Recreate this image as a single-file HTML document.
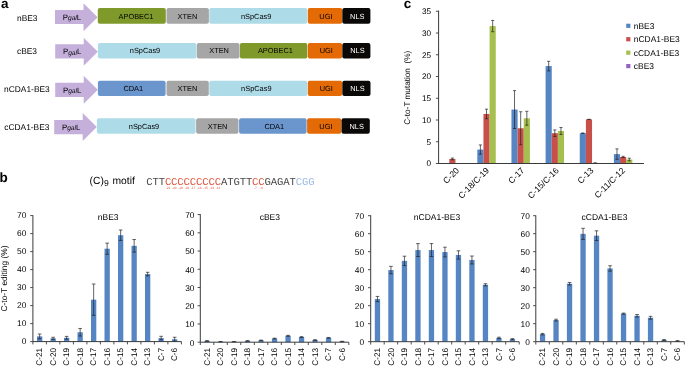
<!DOCTYPE html>
<html lang="en">
<head>
<meta charset="utf-8">
<title>Figure: base editor architectures and C-to-T editing</title>
<style>
html,body{margin:0;padding:0;background:#ffffff;}
body{width:685px;height:366px;overflow:hidden;}
svg{display:block;font-family:"Liberation Sans", Arial, sans-serif;text-rendering:geometricPrecision;}
</style>
</head>
<body>
<svg width="685" height="366" viewBox="0 0 685 366">
<rect x="0" y="0" width="685" height="366" fill="#ffffff"/>
<text x="17.00" y="20.90" font-size="8.4" text-anchor="start" fill="#000" >nBE3</text>
<path d="M55.00 9.90H83.50V3.20L97.60 17.25L83.50 31.30V24.00H55.00Z" fill="#c5b0dc"/>
<text x="62.80" y="19.80" font-size="7.8" fill="#000">P<tspan font-size="6.6" font-style="italic" dy="0.4">gal</tspan><tspan dy="-0.4">L</tspan></text>
<rect x="97.80" y="8.10" width="68.00" height="15.60" rx="2" ry="2" fill="#80992b"/>
<text x="136.00" y="19.05" font-size="7.4" text-anchor="middle" fill="#000" >APOBEC1</text>
<rect x="166.50" y="8.10" width="42.40" height="15.60" rx="2" ry="2" fill="#a6a6a6"/>
<text x="187.40" y="19.05" font-size="7.4" text-anchor="middle" fill="#000" >XTEN</text>
<rect x="209.30" y="8.10" width="97.90" height="15.60" rx="2" ry="2" fill="#addbe8"/>
<text x="256.10" y="19.05" font-size="7.4" text-anchor="middle" fill="#000" >nSpCas9</text>
<rect x="307.80" y="8.10" width="34.40" height="15.60" rx="2" ry="2" fill="#e36a05"/>
<text x="325.90" y="19.05" font-size="7.4" text-anchor="middle" fill="#000" >UGI</text>
<rect x="342.30" y="8.10" width="28.10" height="15.60" rx="2" ry="2" fill="#0b0907"/>
<text x="357.30" y="19.05" font-size="7.4" text-anchor="middle" fill="#ffffff" >NLS</text>
<text x="17.00" y="53.70" font-size="8.4" text-anchor="start" fill="#000" >cBE3</text>
<path d="M55.20 44.30H83.70V37.80L97.80 51.80L83.70 65.80V58.60H55.20Z" fill="#c5b0dc"/>
<text x="63.00" y="54.30" font-size="7.8" fill="#000">P<tspan font-size="6.6" font-style="italic" dy="0.4">gal</tspan><tspan dy="-0.4">L</tspan></text>
<rect x="97.90" y="43.00" width="98.50" height="15.60" rx="2" ry="2" fill="#addbe8"/>
<text x="145.00" y="53.25" font-size="7.4" text-anchor="middle" fill="#000" >nSpCas9</text>
<rect x="196.80" y="43.00" width="42.70" height="15.60" rx="2" ry="2" fill="#a6a6a6"/>
<text x="219.10" y="53.25" font-size="7.4" text-anchor="middle" fill="#000" >XTEN</text>
<rect x="239.90" y="43.00" width="67.40" height="15.60" rx="2" ry="2" fill="#80992b"/>
<text x="275.40" y="53.25" font-size="7.4" text-anchor="middle" fill="#000" >APOBEC1</text>
<rect x="307.80" y="43.00" width="34.30" height="15.60" rx="2" ry="2" fill="#e36a05"/>
<text x="326.20" y="53.25" font-size="7.4" text-anchor="middle" fill="#000" >UGI</text>
<rect x="342.30" y="43.00" width="28.10" height="15.60" rx="2" ry="2" fill="#0b0907"/>
<text x="357.40" y="53.25" font-size="7.4" text-anchor="middle" fill="#ffffff" >NLS</text>
<text x="4.10" y="92.10" font-size="8.4" text-anchor="start" fill="#000" >nCDA1-BE3</text>
<path d="M55.20 82.70H83.70V75.70L97.80 89.70L83.70 103.70V97.00H55.20Z" fill="#c5b0dc"/>
<text x="63.00" y="92.70" font-size="7.8" fill="#000">P<tspan font-size="6.6" font-style="italic" dy="0.4">gal</tspan><tspan dy="-0.4">L</tspan></text>
<rect x="97.90" y="80.70" width="67.70" height="15.40" rx="2" ry="2" fill="#6b95cd"/>
<text x="133.30" y="91.35" font-size="7.4" text-anchor="middle" fill="#000" >CDA1</text>
<rect x="166.50" y="80.70" width="42.30" height="15.40" rx="2" ry="2" fill="#a6a6a6"/>
<text x="187.40" y="91.35" font-size="7.4" text-anchor="middle" fill="#000" >XTEN</text>
<rect x="209.30" y="80.70" width="98.00" height="15.40" rx="2" ry="2" fill="#addbe8"/>
<text x="256.30" y="91.35" font-size="7.4" text-anchor="middle" fill="#000" >nSpCas9</text>
<rect x="307.80" y="80.70" width="34.30" height="15.40" rx="2" ry="2" fill="#e36a05"/>
<text x="326.20" y="91.35" font-size="7.4" text-anchor="middle" fill="#000" >UGI</text>
<rect x="342.30" y="80.70" width="28.20" height="15.40" rx="2" ry="2" fill="#0b0907"/>
<text x="357.40" y="91.35" font-size="7.4" text-anchor="middle" fill="#ffffff" >NLS</text>
<text x="4.30" y="129.80" font-size="8.4" text-anchor="start" fill="#000" >cCDA1-BE3</text>
<path d="M54.20 120.00H82.70V112.90L96.80 126.95L82.70 141.00V134.20H54.20Z" fill="#c5b0dc"/>
<text x="62.00" y="129.95" font-size="7.8" fill="#000">P<tspan font-size="6.6" font-style="italic" dy="0.4">gal</tspan><tspan dy="-0.4">L</tspan></text>
<rect x="96.90" y="118.30" width="98.60" height="15.50" rx="2" ry="2" fill="#addbe8"/>
<text x="144.00" y="129.10" font-size="7.4" text-anchor="middle" fill="#000" >nSpCas9</text>
<rect x="196.10" y="118.30" width="42.40" height="15.50" rx="2" ry="2" fill="#a6a6a6"/>
<text x="217.60" y="129.10" font-size="7.4" text-anchor="middle" fill="#000" >XTEN</text>
<rect x="239.10" y="118.30" width="67.50" height="15.50" rx="2" ry="2" fill="#6b95cd"/>
<text x="274.30" y="129.10" font-size="7.4" text-anchor="middle" fill="#000" >CDA1</text>
<rect x="307.10" y="118.30" width="34.20" height="15.50" rx="2" ry="2" fill="#e36a05"/>
<text x="325.90" y="129.10" font-size="7.4" text-anchor="middle" fill="#000" >UGI</text>
<rect x="341.50" y="118.30" width="28.30" height="15.50" rx="2" ry="2" fill="#0b0907"/>
<text x="356.70" y="129.10" font-size="7.4" text-anchor="middle" fill="#ffffff" >NLS</text>
<text x="1.0" y="7.6" font-size="13.5" font-weight="bold" fill="#000">a</text>
<text x="-0.4" y="181.6" font-size="13.5" font-weight="bold" fill="#000">b</text>
<text x="403.8" y="7.8" font-size="13.5" font-weight="bold" fill="#000">c</text>
<path d="M438.6 10.6V163.5H643.7" fill="none" stroke="#3a3a3a" stroke-width="1"/>
<path d="M435.90 163.50H438.6" stroke="#3a3a3a" stroke-width="0.9"/>
<text x="431.00" y="166.45" font-size="8.2" text-anchor="end" fill="#000" >0</text>
<path d="M435.90 141.75H438.6" stroke="#3a3a3a" stroke-width="0.9"/>
<text x="431.00" y="144.70" font-size="8.2" text-anchor="end" fill="#000" >5</text>
<path d="M435.90 120.01H438.6" stroke="#3a3a3a" stroke-width="0.9"/>
<text x="431.00" y="122.96" font-size="8.2" text-anchor="end" fill="#000" >10</text>
<path d="M435.90 98.27H438.6" stroke="#3a3a3a" stroke-width="0.9"/>
<text x="431.00" y="101.22" font-size="8.2" text-anchor="end" fill="#000" >15</text>
<path d="M435.90 76.52H438.6" stroke="#3a3a3a" stroke-width="0.9"/>
<text x="431.00" y="79.47" font-size="8.2" text-anchor="end" fill="#000" >20</text>
<path d="M435.90 54.77H438.6" stroke="#3a3a3a" stroke-width="0.9"/>
<text x="431.00" y="57.72" font-size="8.2" text-anchor="end" fill="#000" >25</text>
<path d="M435.90 33.03H438.6" stroke="#3a3a3a" stroke-width="0.9"/>
<text x="431.00" y="35.98" font-size="8.2" text-anchor="end" fill="#000" >30</text>
<path d="M435.90 11.28H438.6" stroke="#3a3a3a" stroke-width="0.9"/>
<text x="431.00" y="14.23" font-size="8.2" text-anchor="end" fill="#000" >35</text>
<text transform="translate(410.2 124.8) rotate(-90)" font-size="8.2" fill="#000">C-to-T mutation&#160;&#160;(%)</text>
<rect x="449.30" y="158.93" width="6.15" height="4.57" fill="#c8504b"/>
<path d="M452.38 158.06V159.80M450.82 158.06H453.93M450.82 159.80H453.93" stroke="#222" stroke-width="0.7" fill="none"/>
<text transform="translate(459.68 171.10) rotate(-45)" font-size="8.6" text-anchor="end" fill="#000">C-20</text>
<rect x="477.30" y="149.58" width="6.15" height="13.92" fill="#5585c3"/>
<rect x="483.45" y="113.92" width="6.15" height="49.58" fill="#c8504b"/>
<rect x="489.60" y="26.07" width="6.15" height="137.43" fill="#a5c04f"/>
<path d="M480.38 144.93V154.24M478.82 144.93H481.93M478.82 154.24H481.93" stroke="#222" stroke-width="0.7" fill="none"/>
<path d="M486.52 109.14V118.71M484.97 109.14H488.07M484.97 118.71H488.07" stroke="#222" stroke-width="0.7" fill="none"/>
<path d="M492.68 20.42V31.73M491.12 20.42H494.23M491.12 31.73H494.23" stroke="#222" stroke-width="0.7" fill="none"/>
<text transform="translate(489.73 171.10) rotate(-45)" font-size="8.6" text-anchor="end" fill="#000">C-18/C-19</text>
<rect x="511.45" y="109.57" width="6.15" height="53.93" fill="#5585c3"/>
<rect x="517.60" y="128.27" width="6.15" height="35.23" fill="#c8504b"/>
<rect x="523.75" y="118.27" width="6.15" height="45.23" fill="#a5c04f"/>
<path d="M514.53 90.65V128.49M512.98 90.65H516.08M512.98 128.49H516.08" stroke="#222" stroke-width="0.7" fill="none"/>
<path d="M520.68 111.75V144.80M519.13 111.75H522.23M519.13 144.80H522.23" stroke="#222" stroke-width="0.7" fill="none"/>
<path d="M526.83 111.31V125.23M525.28 111.31H528.38M525.28 125.23H528.38" stroke="#222" stroke-width="0.7" fill="none"/>
<text transform="translate(524.98 171.10) rotate(-45)" font-size="8.6" text-anchor="end" fill="#000">C-17</text>
<rect x="545.60" y="66.08" width="6.15" height="97.42" fill="#5585c3"/>
<rect x="551.75" y="133.19" width="6.15" height="30.31" fill="#c8504b"/>
<rect x="557.90" y="131.01" width="6.15" height="32.49" fill="#a5c04f"/>
<path d="M548.67 61.30V70.87M547.12 61.30H550.22M547.12 70.87H550.22" stroke="#222" stroke-width="0.7" fill="none"/>
<path d="M554.82 129.93V136.45M553.27 129.93H556.37M553.27 136.45H556.37" stroke="#222" stroke-width="0.7" fill="none"/>
<path d="M560.97 127.53V134.49M559.42 127.53H562.52M559.42 134.49H562.52" stroke="#222" stroke-width="0.7" fill="none"/>
<text transform="translate(559.33 171.10) rotate(-45)" font-size="8.6" text-anchor="end" fill="#000">C-15/C-16</text>
<rect x="579.75" y="133.19" width="6.15" height="30.31" fill="#5585c3"/>
<rect x="585.90" y="119.40" width="6.15" height="44.10" fill="#c8504b"/>
<rect x="592.05" y="163.07" width="6.15" height="0.43" fill="#a5c04f"/>
<path d="M582.83 133.06V133.32M581.28 133.06H584.38M581.28 133.32H584.38" stroke="#222" stroke-width="0.7" fill="none"/>
<path d="M588.98 119.27V119.53M587.43 119.27H590.52M587.43 119.53H590.52" stroke="#222" stroke-width="0.7" fill="none"/>
<path d="M595.12 162.80V163.33M593.58 162.80H596.67M593.58 163.33H596.67" stroke="#222" stroke-width="0.7" fill="none"/>
<text transform="translate(594.08 171.10) rotate(-45)" font-size="8.6" text-anchor="end" fill="#000">C-13</text>
<rect x="613.90" y="154.11" width="6.15" height="9.39" fill="#5585c3"/>
<rect x="620.05" y="156.98" width="6.15" height="6.52" fill="#c8504b"/>
<rect x="626.20" y="159.50" width="6.15" height="4.00" fill="#a5c04f"/>
<path d="M616.98 148.89V159.32M615.43 148.89H618.52M615.43 159.32H618.52" stroke="#222" stroke-width="0.7" fill="none"/>
<path d="M623.12 156.32V157.63M621.58 156.32H624.67M621.58 157.63H624.67" stroke="#222" stroke-width="0.7" fill="none"/>
<path d="M629.27 158.19V160.80M627.73 158.19H630.82M627.73 160.80H630.82" stroke="#222" stroke-width="0.7" fill="none"/>
<text transform="translate(625.53 171.10) rotate(-45)" font-size="8.6" text-anchor="end" fill="#000">C-11/C-12</text>
<path d="M438.1 163.5H643.7" fill="none" stroke="#3a3a3a" stroke-width="1"/>
<rect x="626.2" y="23.70" width="4.2" height="4.2" fill="#5585c3"/>
<text x="633.80" y="28.80" font-size="8.45" text-anchor="start" fill="#000" >nBE3</text>
<rect x="626.2" y="37.13" width="4.2" height="4.2" fill="#c8504b"/>
<text x="633.80" y="42.23" font-size="8.45" text-anchor="start" fill="#000" >nCDA1-BE3</text>
<rect x="626.2" y="50.56" width="4.2" height="4.2" fill="#a5c04f"/>
<text x="633.80" y="55.66" font-size="8.45" text-anchor="start" fill="#000" >cCDA1-BE3</text>
<rect x="626.2" y="63.99" width="4.2" height="4.2" fill="#9563c4"/>
<text x="633.80" y="69.09" font-size="8.45" text-anchor="start" fill="#000" >cBE3</text>
<text x="89.6" y="184.4" font-size="10.3" fill="#000">(C)<tspan font-size="8.6" dy="1.6">9</tspan><tspan x="112.5" dy="-1.6">motif</tspan></text>
<text x="146.2" y="184.8" font-size="10.6" font-family='"Liberation Mono", "Courier New", monospace' textLength="168.34" lengthAdjust="spacing"><tspan fill="#4a4a4a">CTT</tspan><tspan fill="#e2553f">CCCCCCCCC</tspan><tspan fill="#4a4a4a">ATGTT</tspan><tspan fill="#e2553f">CC</tspan><tspan fill="#4a4a4a">GAGAT</tspan><tspan fill="#9dbae6">CGG</tspan></text>
<text x="168.02" y="189.20" font-size="3.2" text-anchor="middle" fill="#e2553f" >-21</text>
<text x="174.26" y="189.20" font-size="3.2" text-anchor="middle" fill="#e2553f" >-20</text>
<text x="180.49" y="189.20" font-size="3.2" text-anchor="middle" fill="#e2553f" >-19</text>
<text x="186.73" y="189.20" font-size="3.2" text-anchor="middle" fill="#e2553f" >-18</text>
<text x="192.96" y="189.20" font-size="3.2" text-anchor="middle" fill="#e2553f" >-17</text>
<text x="199.20" y="189.20" font-size="3.2" text-anchor="middle" fill="#e2553f" >-16</text>
<text x="205.43" y="189.20" font-size="3.2" text-anchor="middle" fill="#e2553f" >-15</text>
<text x="211.67" y="189.20" font-size="3.2" text-anchor="middle" fill="#e2553f" >-14</text>
<text x="217.90" y="189.20" font-size="3.2" text-anchor="middle" fill="#e2553f" >-13</text>
<text x="255.31" y="189.20" font-size="3.2" text-anchor="middle" fill="#e2553f" >-7</text>
<text x="261.55" y="189.20" font-size="3.2" text-anchor="middle" fill="#e2553f" >-6</text>
<path d="M30.20 341.60H32.90" stroke="#3a3a3a" stroke-width="0.9"/>
<text x="26.40" y="344.40" font-size="8.4" text-anchor="end" fill="#000" >0</text>
<path d="M30.20 323.60H32.90" stroke="#3a3a3a" stroke-width="0.9"/>
<text x="26.40" y="326.40" font-size="8.4" text-anchor="end" fill="#000" >10</text>
<path d="M30.20 305.60H32.90" stroke="#3a3a3a" stroke-width="0.9"/>
<text x="26.40" y="308.40" font-size="8.4" text-anchor="end" fill="#000" >20</text>
<path d="M30.20 287.60H32.90" stroke="#3a3a3a" stroke-width="0.9"/>
<text x="26.40" y="290.40" font-size="8.4" text-anchor="end" fill="#000" >30</text>
<path d="M30.20 269.60H32.90" stroke="#3a3a3a" stroke-width="0.9"/>
<text x="26.40" y="272.40" font-size="8.4" text-anchor="end" fill="#000" >40</text>
<path d="M30.20 251.60H32.90" stroke="#3a3a3a" stroke-width="0.9"/>
<text x="26.40" y="254.40" font-size="8.4" text-anchor="end" fill="#000" >50</text>
<path d="M30.20 233.60H32.90" stroke="#3a3a3a" stroke-width="0.9"/>
<text x="26.40" y="236.40" font-size="8.4" text-anchor="end" fill="#000" >60</text>
<path d="M30.20 215.60H32.90" stroke="#3a3a3a" stroke-width="0.9"/>
<text x="26.40" y="218.40" font-size="8.4" text-anchor="end" fill="#000" >70</text>
<rect x="37.00" y="336.38" width="5.3" height="5.22" fill="#5585c3"/>
<path d="M39.65 334.04V338.72M37.85 334.04H41.45M37.85 338.72H41.45" stroke="#222" stroke-width="0.7" fill="none"/>
<text transform="translate(42.45 347.9) rotate(-90)" font-size="8.2" text-anchor="end" fill="#000">C-21</text>
<rect x="50.50" y="338.36" width="5.3" height="3.24" fill="#5585c3"/>
<path d="M53.15 337.28V339.44M51.35 337.28H54.95M51.35 339.44H54.95" stroke="#222" stroke-width="0.7" fill="none"/>
<text transform="translate(55.95 347.9) rotate(-90)" font-size="8.2" text-anchor="end" fill="#000">C-20</text>
<rect x="64.00" y="337.82" width="5.3" height="3.78" fill="#5585c3"/>
<path d="M66.65 336.38V339.26M64.85 336.38H68.45M64.85 339.26H68.45" stroke="#222" stroke-width="0.7" fill="none"/>
<text transform="translate(69.45 347.9) rotate(-90)" font-size="8.2" text-anchor="end" fill="#000">C-19</text>
<rect x="77.50" y="332.24" width="5.3" height="9.36" fill="#5585c3"/>
<path d="M80.15 328.46V336.02M78.35 328.46H81.95M78.35 336.02H81.95" stroke="#222" stroke-width="0.7" fill="none"/>
<text transform="translate(82.95 347.9) rotate(-90)" font-size="8.2" text-anchor="end" fill="#000">C-18</text>
<rect x="91.00" y="299.66" width="5.3" height="41.94" fill="#5585c3"/>
<path d="M93.65 284.00V315.32M91.85 284.00H95.45M91.85 315.32H95.45" stroke="#222" stroke-width="0.7" fill="none"/>
<text transform="translate(96.45 347.9) rotate(-90)" font-size="8.2" text-anchor="end" fill="#000">C-17</text>
<rect x="104.50" y="248.72" width="5.3" height="92.88" fill="#5585c3"/>
<path d="M107.15 243.14V254.30M105.35 243.14H108.95M105.35 254.30H108.95" stroke="#222" stroke-width="0.7" fill="none"/>
<text transform="translate(109.95 347.9) rotate(-90)" font-size="8.2" text-anchor="end" fill="#000">C-16</text>
<rect x="118.00" y="235.22" width="5.3" height="106.38" fill="#5585c3"/>
<path d="M120.65 230.00V240.44M118.85 230.00H122.45M118.85 240.44H122.45" stroke="#222" stroke-width="0.7" fill="none"/>
<text transform="translate(123.45 347.9) rotate(-90)" font-size="8.2" text-anchor="end" fill="#000">C-15</text>
<rect x="131.50" y="245.84" width="5.3" height="95.76" fill="#5585c3"/>
<path d="M134.15 239.54V252.14M132.35 239.54H135.95M132.35 252.14H135.95" stroke="#222" stroke-width="0.7" fill="none"/>
<text transform="translate(136.95 347.9) rotate(-90)" font-size="8.2" text-anchor="end" fill="#000">C-14</text>
<rect x="145.00" y="274.10" width="5.3" height="67.50" fill="#5585c3"/>
<path d="M147.65 272.30V275.90M145.85 272.30H149.45M145.85 275.90H149.45" stroke="#222" stroke-width="0.7" fill="none"/>
<text transform="translate(150.45 347.9) rotate(-90)" font-size="8.2" text-anchor="end" fill="#000">C-13</text>
<rect x="158.50" y="338.09" width="5.3" height="3.51" fill="#5585c3"/>
<path d="M161.15 336.29V339.89M159.35 336.29H162.95M159.35 339.89H162.95" stroke="#222" stroke-width="0.7" fill="none"/>
<text transform="translate(163.95 347.9) rotate(-90)" font-size="8.2" text-anchor="end" fill="#000">C-7</text>
<rect x="172.00" y="339.26" width="5.3" height="2.34" fill="#5585c3"/>
<path d="M174.65 337.28V341.24M172.85 337.28H176.45M172.85 341.24H176.45" stroke="#222" stroke-width="0.7" fill="none"/>
<text transform="translate(177.45 347.9) rotate(-90)" font-size="8.2" text-anchor="end" fill="#000">C-6</text>
<path d="M32.90 341.60V344.40M46.40 341.60V344.40M59.90 341.60V344.40M73.40 341.60V344.40M86.90 341.60V344.40M100.40 341.60V344.40M113.90 341.60V344.40M127.40 341.60V344.40M140.90 341.60V344.40M154.40 341.60V344.40M167.90 341.60V344.40M181.40 341.60V344.40" stroke="#3a3a3a" stroke-width="0.9" fill="none"/>
<path d="M32.90 215.20V341.60H181.40" fill="none" stroke="#3a3a3a" stroke-width="1"/>
<text x="108.20" y="219.50" font-size="8.5" text-anchor="middle" fill="#000" >nBE3</text>
<path d="M197.60 342.20H200.30" stroke="#3a3a3a" stroke-width="0.9"/>
<text x="194.50" y="345.60" font-size="8.4" text-anchor="end" fill="#000" >0</text>
<path d="M197.60 323.97H200.30" stroke="#3a3a3a" stroke-width="0.9"/>
<text x="194.50" y="327.37" font-size="8.4" text-anchor="end" fill="#000" >10</text>
<path d="M197.60 305.74H200.30" stroke="#3a3a3a" stroke-width="0.9"/>
<text x="194.50" y="309.14" font-size="8.4" text-anchor="end" fill="#000" >20</text>
<path d="M197.60 287.51H200.30" stroke="#3a3a3a" stroke-width="0.9"/>
<text x="194.50" y="290.91" font-size="8.4" text-anchor="end" fill="#000" >30</text>
<path d="M197.60 269.28H200.30" stroke="#3a3a3a" stroke-width="0.9"/>
<text x="194.50" y="272.68" font-size="8.4" text-anchor="end" fill="#000" >40</text>
<path d="M197.60 251.05H200.30" stroke="#3a3a3a" stroke-width="0.9"/>
<text x="194.50" y="254.45" font-size="8.4" text-anchor="end" fill="#000" >50</text>
<path d="M197.60 232.82H200.30" stroke="#3a3a3a" stroke-width="0.9"/>
<text x="194.50" y="236.22" font-size="8.4" text-anchor="end" fill="#000" >60</text>
<path d="M197.60 214.59H200.30" stroke="#3a3a3a" stroke-width="0.9"/>
<text x="194.50" y="217.99" font-size="8.4" text-anchor="end" fill="#000" >70</text>
<rect x="204.40" y="340.92" width="5.3" height="1.28" fill="#5585c3"/>
<path d="M207.05 340.65V341.20M205.25 340.65H208.85M205.25 341.20H208.85" stroke="#222" stroke-width="0.7" fill="none"/>
<text transform="translate(209.85 347.9) rotate(-90)" font-size="8.2" text-anchor="end" fill="#000">C-21</text>
<rect x="217.90" y="341.65" width="5.3" height="0.55" fill="#5585c3"/>
<path d="M220.55 341.47V341.84M218.75 341.47H222.35M218.75 341.84H222.35" stroke="#222" stroke-width="0.7" fill="none"/>
<text transform="translate(223.35 347.9) rotate(-90)" font-size="8.2" text-anchor="end" fill="#000">C-20</text>
<rect x="231.40" y="341.65" width="5.3" height="0.55" fill="#5585c3"/>
<path d="M234.05 341.47V341.84M232.25 341.47H235.85M232.25 341.84H235.85" stroke="#222" stroke-width="0.7" fill="none"/>
<text transform="translate(236.85 347.9) rotate(-90)" font-size="8.2" text-anchor="end" fill="#000">C-19</text>
<rect x="244.90" y="340.92" width="5.3" height="1.28" fill="#5585c3"/>
<path d="M247.55 340.65V341.20M245.75 340.65H249.35M245.75 341.20H249.35" stroke="#222" stroke-width="0.7" fill="none"/>
<text transform="translate(250.35 347.9) rotate(-90)" font-size="8.2" text-anchor="end" fill="#000">C-18</text>
<rect x="258.40" y="340.38" width="5.3" height="1.82" fill="#5585c3"/>
<path d="M261.05 340.10V340.65M259.25 340.10H262.85M259.25 340.65H262.85" stroke="#222" stroke-width="0.7" fill="none"/>
<text transform="translate(263.85 347.9) rotate(-90)" font-size="8.2" text-anchor="end" fill="#000">C-17</text>
<rect x="271.90" y="338.55" width="5.3" height="3.65" fill="#5585c3"/>
<path d="M274.55 338.19V338.92M272.75 338.19H276.35M272.75 338.92H276.35" stroke="#222" stroke-width="0.7" fill="none"/>
<text transform="translate(277.35 347.9) rotate(-90)" font-size="8.2" text-anchor="end" fill="#000">C-16</text>
<rect x="285.40" y="335.82" width="5.3" height="6.38" fill="#5585c3"/>
<path d="M288.05 335.36V336.28M286.25 335.36H289.85M286.25 336.28H289.85" stroke="#222" stroke-width="0.7" fill="none"/>
<text transform="translate(290.85 347.9) rotate(-90)" font-size="8.2" text-anchor="end" fill="#000">C-15</text>
<rect x="298.90" y="337.10" width="5.3" height="5.10" fill="#5585c3"/>
<path d="M301.55 336.64V337.55M299.75 336.64H303.35M299.75 337.55H303.35" stroke="#222" stroke-width="0.7" fill="none"/>
<text transform="translate(304.35 347.9) rotate(-90)" font-size="8.2" text-anchor="end" fill="#000">C-14</text>
<rect x="312.40" y="340.01" width="5.3" height="2.19" fill="#5585c3"/>
<path d="M315.05 339.74V340.29M313.25 339.74H316.85M313.25 340.29H316.85" stroke="#222" stroke-width="0.7" fill="none"/>
<text transform="translate(317.85 347.9) rotate(-90)" font-size="8.2" text-anchor="end" fill="#000">C-13</text>
<rect x="325.90" y="337.82" width="5.3" height="4.38" fill="#5585c3"/>
<path d="M328.55 337.46V338.19M326.75 337.46H330.35M326.75 338.19H330.35" stroke="#222" stroke-width="0.7" fill="none"/>
<text transform="translate(331.35 347.9) rotate(-90)" font-size="8.2" text-anchor="end" fill="#000">C-7</text>
<rect x="339.40" y="341.47" width="5.3" height="0.73" fill="#5585c3"/>
<path d="M342.05 341.29V341.65M340.25 341.29H343.85M340.25 341.65H343.85" stroke="#222" stroke-width="0.7" fill="none"/>
<text transform="translate(344.85 347.9) rotate(-90)" font-size="8.2" text-anchor="end" fill="#000">C-6</text>
<path d="M200.30 342.20V345.00M213.80 342.20V345.00M227.30 342.20V345.00M240.80 342.20V345.00M254.30 342.20V345.00M267.80 342.20V345.00M281.30 342.20V345.00M294.80 342.20V345.00M308.30 342.20V345.00M321.80 342.20V345.00M335.30 342.20V345.00M348.80 342.20V345.00" stroke="#3a3a3a" stroke-width="0.9" fill="none"/>
<path d="M200.30 214.19V342.20H348.80" fill="none" stroke="#3a3a3a" stroke-width="1"/>
<text x="269.80" y="219.50" font-size="8.5" text-anchor="middle" fill="#000" >cBE3</text>
<path d="M368.00 341.70H370.70" stroke="#3a3a3a" stroke-width="0.9"/>
<text x="364.20" y="345.00" font-size="8.4" text-anchor="end" fill="#000" >0</text>
<path d="M368.00 323.70H370.70" stroke="#3a3a3a" stroke-width="0.9"/>
<text x="364.20" y="327.00" font-size="8.4" text-anchor="end" fill="#000" >10</text>
<path d="M368.00 305.70H370.70" stroke="#3a3a3a" stroke-width="0.9"/>
<text x="364.20" y="309.00" font-size="8.4" text-anchor="end" fill="#000" >20</text>
<path d="M368.00 287.70H370.70" stroke="#3a3a3a" stroke-width="0.9"/>
<text x="364.20" y="291.00" font-size="8.4" text-anchor="end" fill="#000" >30</text>
<path d="M368.00 269.70H370.70" stroke="#3a3a3a" stroke-width="0.9"/>
<text x="364.20" y="273.00" font-size="8.4" text-anchor="end" fill="#000" >40</text>
<path d="M368.00 251.70H370.70" stroke="#3a3a3a" stroke-width="0.9"/>
<text x="364.20" y="255.00" font-size="8.4" text-anchor="end" fill="#000" >50</text>
<path d="M368.00 233.70H370.70" stroke="#3a3a3a" stroke-width="0.9"/>
<text x="364.20" y="237.00" font-size="8.4" text-anchor="end" fill="#000" >60</text>
<path d="M368.00 215.70H370.70" stroke="#3a3a3a" stroke-width="0.9"/>
<text x="364.20" y="219.00" font-size="8.4" text-anchor="end" fill="#000" >70</text>
<rect x="374.80" y="299.04" width="5.3" height="42.66" fill="#5585c3"/>
<path d="M377.45 296.43V301.65M375.65 296.43H379.25M375.65 301.65H379.25" stroke="#222" stroke-width="0.7" fill="none"/>
<text transform="translate(380.25 347.9) rotate(-90)" font-size="8.2" text-anchor="end" fill="#000">C-21</text>
<rect x="388.30" y="270.06" width="5.3" height="71.64" fill="#5585c3"/>
<path d="M390.95 266.37V273.75M389.15 266.37H392.75M389.15 273.75H392.75" stroke="#222" stroke-width="0.7" fill="none"/>
<text transform="translate(393.75 347.9) rotate(-90)" font-size="8.2" text-anchor="end" fill="#000">C-20</text>
<rect x="401.80" y="260.88" width="5.3" height="80.82" fill="#5585c3"/>
<path d="M404.45 256.20V265.56M402.65 256.20H406.25M402.65 265.56H406.25" stroke="#222" stroke-width="0.7" fill="none"/>
<text transform="translate(407.25 347.9) rotate(-90)" font-size="8.2" text-anchor="end" fill="#000">C-19</text>
<rect x="415.30" y="250.08" width="5.3" height="91.62" fill="#5585c3"/>
<path d="M417.95 243.60V256.56M416.15 243.60H419.75M416.15 256.56H419.75" stroke="#222" stroke-width="0.7" fill="none"/>
<text transform="translate(420.75 347.9) rotate(-90)" font-size="8.2" text-anchor="end" fill="#000">C-18</text>
<rect x="428.80" y="250.08" width="5.3" height="91.62" fill="#5585c3"/>
<path d="M431.45 243.60V256.56M429.65 243.60H433.25M429.65 256.56H433.25" stroke="#222" stroke-width="0.7" fill="none"/>
<text transform="translate(434.25 347.9) rotate(-90)" font-size="8.2" text-anchor="end" fill="#000">C-17</text>
<rect x="442.30" y="252.06" width="5.3" height="89.64" fill="#5585c3"/>
<path d="M444.95 247.20V256.92M443.15 247.20H446.75M443.15 256.92H446.75" stroke="#222" stroke-width="0.7" fill="none"/>
<text transform="translate(447.75 347.9) rotate(-90)" font-size="8.2" text-anchor="end" fill="#000">C-16</text>
<rect x="455.80" y="254.94" width="5.3" height="86.76" fill="#5585c3"/>
<path d="M458.45 250.80V259.08M456.65 250.80H460.25M456.65 259.08H460.25" stroke="#222" stroke-width="0.7" fill="none"/>
<text transform="translate(461.25 347.9) rotate(-90)" font-size="8.2" text-anchor="end" fill="#000">C-15</text>
<rect x="469.30" y="259.98" width="5.3" height="81.72" fill="#5585c3"/>
<path d="M471.95 256.02V263.94M470.15 256.02H473.75M470.15 263.94H473.75" stroke="#222" stroke-width="0.7" fill="none"/>
<text transform="translate(474.75 347.9) rotate(-90)" font-size="8.2" text-anchor="end" fill="#000">C-14</text>
<rect x="482.80" y="284.82" width="5.3" height="56.88" fill="#5585c3"/>
<path d="M485.45 283.74V285.90M483.65 283.74H487.25M483.65 285.90H487.25" stroke="#222" stroke-width="0.7" fill="none"/>
<text transform="translate(488.25 347.9) rotate(-90)" font-size="8.2" text-anchor="end" fill="#000">C-13</text>
<rect x="496.30" y="337.92" width="5.3" height="3.78" fill="#5585c3"/>
<path d="M498.95 337.20V338.64M497.15 337.20H500.75M497.15 338.64H500.75" stroke="#222" stroke-width="0.7" fill="none"/>
<text transform="translate(501.75 347.9) rotate(-90)" font-size="8.2" text-anchor="end" fill="#000">C-7</text>
<rect x="509.80" y="339.18" width="5.3" height="2.52" fill="#5585c3"/>
<path d="M512.45 338.64V339.72M510.65 338.64H514.25M510.65 339.72H514.25" stroke="#222" stroke-width="0.7" fill="none"/>
<text transform="translate(515.25 347.9) rotate(-90)" font-size="8.2" text-anchor="end" fill="#000">C-6</text>
<path d="M370.70 341.70V344.50M384.20 341.70V344.50M397.70 341.70V344.50M411.20 341.70V344.50M424.70 341.70V344.50M438.20 341.70V344.50M451.70 341.70V344.50M465.20 341.70V344.50M478.70 341.70V344.50M492.20 341.70V344.50M505.70 341.70V344.50M519.20 341.70V344.50" stroke="#3a3a3a" stroke-width="0.9" fill="none"/>
<path d="M370.70 215.30V341.70H519.20" fill="none" stroke="#3a3a3a" stroke-width="1"/>
<text x="437.00" y="219.50" font-size="8.5" text-anchor="middle" fill="#000" >nCDA1-BE3</text>
<path d="M533.10 341.70H535.80" stroke="#3a3a3a" stroke-width="0.9"/>
<text x="529.90" y="345.00" font-size="8.4" text-anchor="end" fill="#000" >0</text>
<path d="M533.10 323.70H535.80" stroke="#3a3a3a" stroke-width="0.9"/>
<text x="529.90" y="327.00" font-size="8.4" text-anchor="end" fill="#000" >10</text>
<path d="M533.10 305.70H535.80" stroke="#3a3a3a" stroke-width="0.9"/>
<text x="529.90" y="309.00" font-size="8.4" text-anchor="end" fill="#000" >20</text>
<path d="M533.10 287.70H535.80" stroke="#3a3a3a" stroke-width="0.9"/>
<text x="529.90" y="291.00" font-size="8.4" text-anchor="end" fill="#000" >30</text>
<path d="M533.10 269.70H535.80" stroke="#3a3a3a" stroke-width="0.9"/>
<text x="529.90" y="273.00" font-size="8.4" text-anchor="end" fill="#000" >40</text>
<path d="M533.10 251.70H535.80" stroke="#3a3a3a" stroke-width="0.9"/>
<text x="529.90" y="255.00" font-size="8.4" text-anchor="end" fill="#000" >50</text>
<path d="M533.10 233.70H535.80" stroke="#3a3a3a" stroke-width="0.9"/>
<text x="529.90" y="237.00" font-size="8.4" text-anchor="end" fill="#000" >60</text>
<path d="M533.10 215.70H535.80" stroke="#3a3a3a" stroke-width="0.9"/>
<text x="529.90" y="219.00" font-size="8.4" text-anchor="end" fill="#000" >70</text>
<rect x="539.90" y="334.14" width="5.3" height="7.56" fill="#5585c3"/>
<path d="M542.55 333.42V334.86M540.75 333.42H544.35M540.75 334.86H544.35" stroke="#222" stroke-width="0.7" fill="none"/>
<text transform="translate(545.35 347.9) rotate(-90)" font-size="8.2" text-anchor="end" fill="#000">C-21</text>
<rect x="553.40" y="320.10" width="5.3" height="21.60" fill="#5585c3"/>
<path d="M556.05 319.20V321.00M554.25 319.20H557.85M554.25 321.00H557.85" stroke="#222" stroke-width="0.7" fill="none"/>
<text transform="translate(558.85 347.9) rotate(-90)" font-size="8.2" text-anchor="end" fill="#000">C-20</text>
<rect x="566.90" y="283.74" width="5.3" height="57.96" fill="#5585c3"/>
<path d="M569.55 282.48V285.00M567.75 282.48H571.35M567.75 285.00H571.35" stroke="#222" stroke-width="0.7" fill="none"/>
<text transform="translate(572.35 347.9) rotate(-90)" font-size="8.2" text-anchor="end" fill="#000">C-19</text>
<rect x="580.40" y="233.88" width="5.3" height="107.82" fill="#5585c3"/>
<path d="M583.05 228.30V239.46M581.25 228.30H584.85M581.25 239.46H584.85" stroke="#222" stroke-width="0.7" fill="none"/>
<text transform="translate(585.85 347.9) rotate(-90)" font-size="8.2" text-anchor="end" fill="#000">C-18</text>
<rect x="593.90" y="235.68" width="5.3" height="106.02" fill="#5585c3"/>
<path d="M596.55 230.82V240.54M594.75 230.82H598.35M594.75 240.54H598.35" stroke="#222" stroke-width="0.7" fill="none"/>
<text transform="translate(599.35 347.9) rotate(-90)" font-size="8.2" text-anchor="end" fill="#000">C-17</text>
<rect x="607.40" y="268.44" width="5.3" height="73.26" fill="#5585c3"/>
<path d="M610.05 265.74V271.14M608.25 265.74H611.85M608.25 271.14H611.85" stroke="#222" stroke-width="0.7" fill="none"/>
<text transform="translate(612.85 347.9) rotate(-90)" font-size="8.2" text-anchor="end" fill="#000">C-16</text>
<rect x="620.90" y="313.62" width="5.3" height="28.08" fill="#5585c3"/>
<path d="M623.55 313.08V314.16M621.75 313.08H625.35M621.75 314.16H625.35" stroke="#222" stroke-width="0.7" fill="none"/>
<text transform="translate(626.35 347.9) rotate(-90)" font-size="8.2" text-anchor="end" fill="#000">C-15</text>
<rect x="634.40" y="315.78" width="5.3" height="25.92" fill="#5585c3"/>
<path d="M637.05 314.52V317.04M635.25 314.52H638.85M635.25 317.04H638.85" stroke="#222" stroke-width="0.7" fill="none"/>
<text transform="translate(639.85 347.9) rotate(-90)" font-size="8.2" text-anchor="end" fill="#000">C-14</text>
<rect x="647.90" y="317.76" width="5.3" height="23.94" fill="#5585c3"/>
<path d="M650.55 316.32V319.20M648.75 316.32H652.35M648.75 319.20H652.35" stroke="#222" stroke-width="0.7" fill="none"/>
<text transform="translate(653.35 347.9) rotate(-90)" font-size="8.2" text-anchor="end" fill="#000">C-13</text>
<rect x="661.40" y="340.08" width="5.3" height="1.62" fill="#5585c3"/>
<path d="M664.05 339.54V340.62M662.25 339.54H665.85M662.25 340.62H665.85" stroke="#222" stroke-width="0.7" fill="none"/>
<text transform="translate(666.85 347.9) rotate(-90)" font-size="8.2" text-anchor="end" fill="#000">C-7</text>
<rect x="674.90" y="340.98" width="5.3" height="0.72" fill="#5585c3"/>
<path d="M677.55 340.62V341.34M675.75 340.62H679.35M675.75 341.34H679.35" stroke="#222" stroke-width="0.7" fill="none"/>
<text transform="translate(680.35 347.9) rotate(-90)" font-size="8.2" text-anchor="end" fill="#000">C-6</text>
<path d="M535.80 341.70V344.50M549.30 341.70V344.50M562.80 341.70V344.50M576.30 341.70V344.50M589.80 341.70V344.50M603.30 341.70V344.50M616.80 341.70V344.50M630.30 341.70V344.50M643.80 341.70V344.50M657.30 341.70V344.50M670.80 341.70V344.50M684.30 341.70V344.50" stroke="#3a3a3a" stroke-width="0.9" fill="none"/>
<path d="M535.80 215.30V341.70H684.30" fill="none" stroke="#3a3a3a" stroke-width="1"/>
<text x="604.50" y="219.50" font-size="8.5" text-anchor="middle" fill="#000" >cCDA1-BE3</text>
<text transform="translate(6.6 311.5) rotate(-90)" font-size="8.4" fill="#000">C-to-T editing (%)</text>
</svg>
</body>
</html>
